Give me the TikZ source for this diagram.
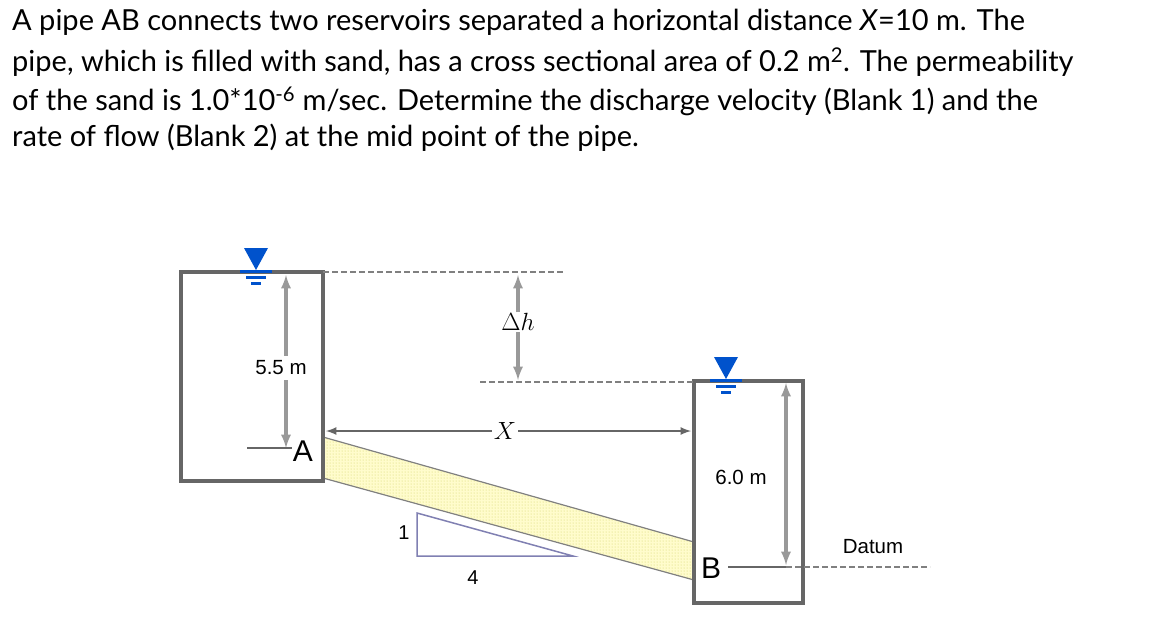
\documentclass[tikz,border=0pt]{standalone}
\usepackage{fontspec}
\setmainfont{Lato}
\setsansfont{Liberation Sans}
\usetikzlibrary{patterns}
\begin{document}
\begin{tikzpicture}[x=1pt,y=-1pt,
  txt/.style={anchor=west,inner sep=0pt,font=\fontsize{29}{34}\selectfont},
  lab/.style={inner sep=1pt,font=\sffamily\fontsize{20.5}{22}\selectfont},
  box/.style={draw=black!60,line width=4pt},
  dim/.style={draw=black!40,line width=3.5pt,-latex},
  dsh/.style={draw=black!50,dash pattern=on 6pt off 3pt,line width=1.5pt},
  wtr/.style={fill=blue!60!cyan!80!black}]
\useasboundingbox (0,0) rectangle (1166,625);
\node[txt] (l1) at (12,22) {A pipe AB connects two reservoirs separated a horizontal distance \textit{X}=10 m. The};
\node[txt] (l2) at (12,62) {pipe, which is filled with sand, has a cross sectional area of 0.2 m\textsuperscript{2}. The permeability};
\node[txt] (l3) at (12,101) {of the sand is 1.0*10\textsuperscript{-6} m/sec. Determine the discharge velocity (Blank 1) and the};
\node[txt] (l4) at (12,138) {rate of flow (Blank 2) at the mid point of the pipe.};
% pipe
\fill[yellow!20!white] (323,437) -- (694,542) -- (694,580) -- (323,478) -- cycle;
\fill[pattern=dots,pattern color=yellow!70!black!60] (323,437) -- (694,542) -- (694,580) -- (323,478) -- cycle;
\draw[black!50,line width=1.2pt] (323,437) -- (694,542) (323,478) -- (694,580);
% boxes
\draw[box] (181,272) rectangle (323,481);
\draw[box] (694,381) rectangle (803,603);
% dashed
\draw[dsh] (323,272) -- (565,272);
\draw[dsh] (480,382) -- (694,382);
\draw[dsh] (786,567) -- (930,567);
% water symbols
\foreach \cx/\cy in {256/272,726/381}{
  \fill[wtr] (\cx-12,\cy-24) -- (\cx+12,\cy-24) -- (\cx,\cy-2) -- cycle;
  \fill[wtr] (\cx-16,\cy-2) rectangle (\cx+16,\cy+1);
  \fill[wtr] (\cx-10,\cy+4) rectangle (\cx+10,\cy+7);
  \fill[wtr] (\cx-5,\cy+10) rectangle (\cx+5,\cy+13);
}
% 5.5 m
\node[lab] (d55) at (281,368) {5.5 m};
\coordinate (t55) at (286,275); \coordinate (b55) at (286,448);
\draw[dim] (d55.north -| t55) ++(0,-4) -- (t55);
\draw[dim] (d55.south -| b55) ++(0,4) -- (b55);
\node[inner sep=1pt,font=\sffamily\fontsize{30}{30}\selectfont] (A) at (303,451) {A};
\coordinate (A0) at (247,448);
\draw[black!60,line width=2pt] (A0) -- (A.west |- A0);
% Delta h
\node[inner sep=1pt,font=\fontsize{27}{28}\selectfont] (dh) at (518,322) {$\Delta h$};
\coordinate (tdh) at (518,275); \coordinate (bdh) at (518,380);
\draw[dim] (dh.north) -- (tdh);
\draw[dim] (dh.south) -- (bdh);
% X
\node[inner sep=2pt,font=\fontsize{27}{28}\selectfont] (X) at (505,431) {$X$};
\coordinate (xl) at (326,431); \coordinate (xr) at (691,431);
\draw[black!60,line width=2.5pt,-latex] (X.west) -- (xl);
\draw[black!60,line width=2.5pt,-latex] (X.east) -- (xr);
% 6.0 m
\node[lab] (d60) at (741,477) {6.0 m};
\coordinate (t60) at (786,383); \coordinate (b60) at (786,565);
\draw[black!40,line width=3.5pt,latex-latex] (t60) -- (b60);
\node[inner sep=1pt,font=\sffamily\fontsize{30}{30}\selectfont] (B) at (711,568) {B};
\coordinate (B0) at (728,567);
\draw[black!60,line width=2pt] (B0) -- (b60 |- B0);
\node[lab] (dat) at (873,547) {Datum};
% slope triangle
\draw[blue!40!black!50,line width=1.5pt] (417,513) -- (417,556) -- (573,556) -- cycle;
\node[inner sep=1pt,font=\sffamily\fontsize{20}{20}\selectfont] (one) at (404,533) {1};
\node[inner sep=1pt,font=\sffamily\fontsize{20}{20}\selectfont] (four) at (473,578) {4};
\end{tikzpicture}
\end{document}
